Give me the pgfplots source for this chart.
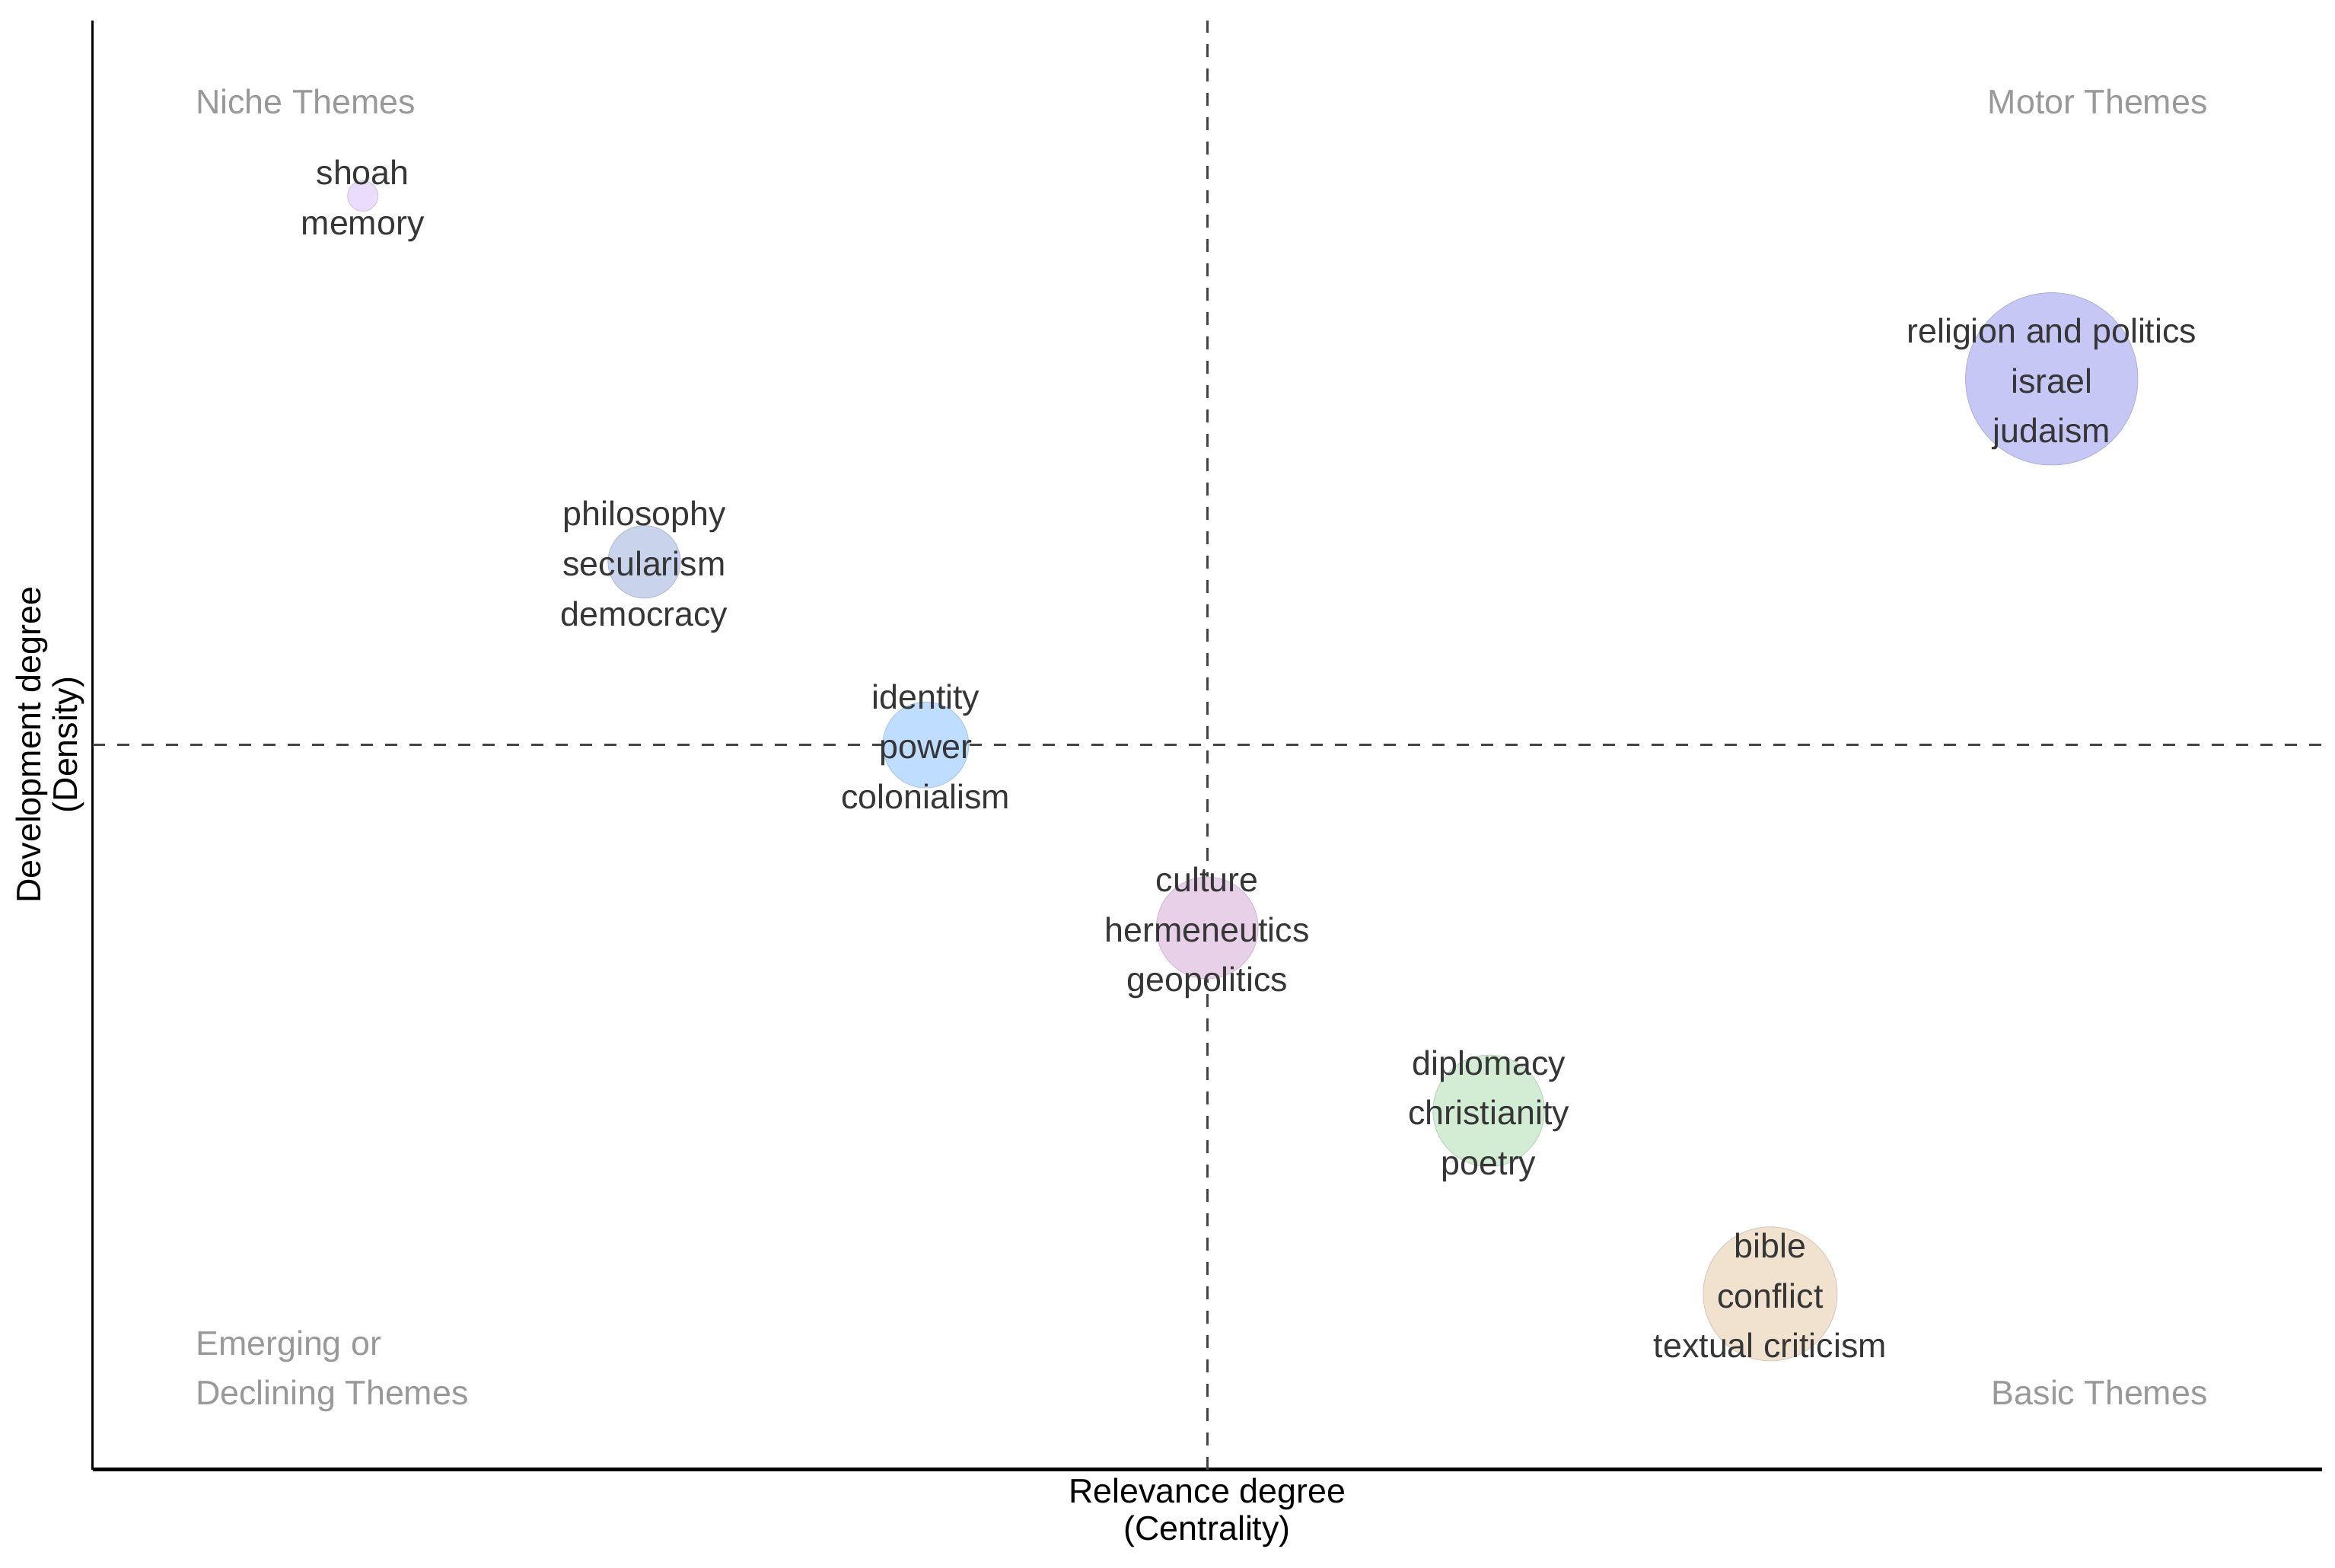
\documentclass[border=0pt]{standalone}
\usepackage{fontspec}
\setmainfont{Liberation Sans}
\usepackage{pgfplots}
\pgfplotsset{compat=1.18}

% text colours
\definecolor{labeltext}{HTML}{363636}
\definecolor{quadtext}{HTML}{999999}
\definecolor{refline}{HTML}{444444}
% cluster colours
\definecolor{cShoah}{RGB}{234,220,252}
\definecolor{cReligion}{RGB}{199,199,246}
\definecolor{cPhilo}{RGB}{201,212,236}
\definecolor{cIdentity}{RGB}{191,222,255}
\definecolor{cCulture}{RGB}{232,209,232}
\definecolor{cDiplo}{RGB}{211,237,212}
\definecolor{cBible}{RGB}{240,226,207}

\pgfplotsset{
  bubble/.style={only marks, mark=*,
    mark options={fill=#1, draw=#1!90!black, line width=0.25pt}},
  every node near coord/.append style={anchor=center, align=center, yshift=-1.7pt,
    text=labeltext, font=\fontsize{11.2}{16.4}\selectfont},
}
\tikzset{
  quadrant/.style={text=quadtext, font=\fontsize{11.2}{16.2}\selectfont, inner sep=0pt},
}

\begin{document}
\begin{tikzpicture}
\useasboundingbox (0,0) rectangle (767pt,514.75pt);
\begin{axis}[
  at={(30.4pt,32.1pt)}, anchor=south west,
  scale only axis, width=732.3pt, height=476pt,
  xmin=0.04, xmax=7.96, ymin=0.04, ymax=7.96,
  axis x line*=bottom, axis y line*=left,
  axis line style={-},
  x axis line style={line width=1.3pt},
  y axis line style={line width=0.9pt},
  xtick=\empty, ytick=\empty,
  clip=false,
  xlabel={Relevance degree\\(Centrality)},
  ylabel={Development degree\\(Density)},
  label style={font=\fontsize{11.2}{12.2}\selectfont, align=center, text=black, inner sep=0pt},
  xlabel style={at={(axis description cs:0.5,-0.0058)}, anchor=north},
  ylabel style={at={(axis description cs:-0.0033,0.5)}, anchor=south},
]
% clusters: centrality rank, density rank, bubble radius
\addplot[bubble=cShoah, mark size=5pt, nodes near coords={shoah\\memory}]
  coordinates {(1,7)};
\addplot[bubble=cPhilo, mark size=11.9pt, nodes near coords={philosophy\\secularism\\democracy}]
  coordinates {(2,5)};
\addplot[bubble=cIdentity, mark size=14.1pt, nodes near coords={identity\\power\\colonialism\vphantom{g}}]
  coordinates {(3,4)};
\addplot[bubble=cCulture, mark size=16.7pt, nodes near coords={culture\\hermeneutics\\geopolitics}]
  coordinates {(4,3)};
\addplot[bubble=cDiplo, mark size=18.3pt, nodes near coords={diplomacy\\christianity\\poetry}]
  coordinates {(5,2)};
\addplot[bubble=cBible, mark size=22pt, nodes near coords={bible\\conflict\\textual criticism\vphantom{g}}]
  coordinates {(6,1)};
\addplot[bubble=cReligion, mark size=28.3pt, nodes near coords={religion and politics\\israel\\judaism}]
  coordinates {(7,6)};

% quadrant separators at the median ranks
\addplot[refline, line width=0.8pt, dash pattern=on 4.2pt off 3.8pt] coordinates {(4,0.04) (4,7.96)};
\addplot[refline, line width=0.8pt, dash pattern=on 4.2pt off 3.8pt] coordinates {(0.04,4) (7.96,4)};

% quadrant names
\node[quadrant, anchor=west] at (rel axis cs:0.046,0.944) {Niche Themes};
\node[quadrant, anchor=east] at (rel axis cs:0.949,0.944) {Motor Themes};
\node[quadrant, anchor=west, align=left] at (rel axis cs:0.046,0.068) {Emerging or\\Declining Themes};
\node[quadrant, anchor=east] at (rel axis cs:0.949,0.0531) {Basic Themes};
\end{axis}
\end{tikzpicture}
\end{document}
